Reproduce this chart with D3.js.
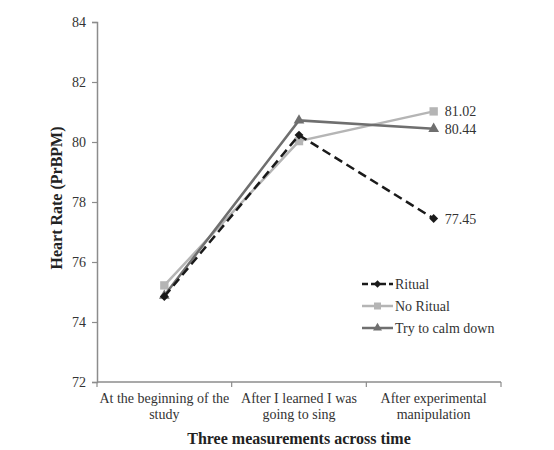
<!DOCTYPE html>
<html>
<head>
<meta charset="utf-8">
<script src="https://cdn.jsdelivr.net/npm/d3@7"></script>
<style>
  body { margin: 0; background: #fff; }
  svg { display: block; }
  svg text { font-family: "Liberation Serif", "Times New Roman", Times, "DejaVu Serif", serif !important; }
</style>
</head>
<body>
<div id="chart"></div>
<script>
// Data
const categories = ["At the beginning of the study", "After I learned I was going to sing", "After experimental manipulation"];
const categoryLines = [["At the beginning of the", "study"], ["After I learned I was", "going to sing"], ["After experimental", "manipulation"]];
const ritual = [74.85, 80.23, 77.45];
const noRitual = [75.22, 80.03, 81.02];
const calmDown = [74.88, 80.72, 80.44];
const seriesNames = ["Ritual", "No Ritual", "Try to calm down"];
const yTicks = [72, 74, 76, 78, 80, 82, 84];

const width = 554;
const height = 450;
const margin = { top: 22, right: 53, bottom: 68, left: 97 };

const svg = d3.select("#chart").append("svg")
  .attr("width", width)
  .attr("height", height)
  .attr("viewBox", [0, 0, width, height]);

const x = d3.scaleBand()
  .domain(categories)
  .range([margin.left, width - margin.right])
  .padding(0);

const y = d3.scaleLinear()
  .domain([72, 84])
  .range([height - margin.bottom, margin.top]);

const axisColor = "#8c8c8c";

// y axis
const yAxis = svg.append("g")
  .attr("transform", `translate(${margin.left},0)`)
  .call(d3.axisLeft(y).tickValues(yTicks).tickSize(5).tickPadding(6).tickFormat(d3.format("d")));
yAxis.select(".domain").attr("stroke", axisColor).attr("stroke-width", 1.5);
yAxis.selectAll(".tick line").attr("stroke", axisColor).attr("stroke-width", 1.2);
yAxis.selectAll(".tick text")
  .attr("fill", "#333")
  .style("font-size", "14px");

// x axis (ticks between categories)
const xAxis = svg.append("g");
xAxis.append("line")
  .attr("x1", x.range()[0]).attr("x2", x.range()[1])
  .attr("y1", y(72)).attr("y2", y(72))
  .attr("stroke", axisColor).attr("stroke-width", 1.5);
const bounds = categories.map(c => x(c)).concat([x(categories[categories.length - 1]) + x.bandwidth()]);
xAxis.selectAll(".xtick")
  .data(bounds)
  .join("line")
  .attr("x1", d => d).attr("x2", d => d)
  .attr("y1", y(72)).attr("y2", y(72) + 5)
  .attr("stroke", axisColor).attr("stroke-width", 1.2);

const catLabel = xAxis.selectAll(".catlabel")
  .data(categories)
  .join("text")
  .attr("text-anchor", "middle")
  .attr("fill", "#333")
  .style("font-size", "14px");
catLabel.selectAll("tspan")
  .data((d, i) => categoryLines[i].map(t => ({ t, c: d })))
  .join("tspan")
  .attr("x", d => x(d.c) + x.bandwidth() / 2)
  .attr("y", (d, i) => y(72) + 21 + i * 15.5)
  .text(d => d.t);

// axis titles
svg.append("text")
  .attr("x", (x.range()[0] + x.range()[1]) / 2)
  .attr("y", 444)
  .attr("text-anchor", "middle")
  .attr("font-weight", "bold")
  .attr("fill", "#222")
  .style("font-size", "16px")
  .text("Three measurements across time");

svg.append("text")
  .attr("transform", `translate(62,${(y(72) + y(84)) / 2 - 4}) rotate(-90)`)
  .attr("text-anchor", "middle")
  .attr("font-weight", "bold")
  .attr("fill", "#222")
  .style("font-size", "16px")
  .text("Heart Rate (PrBPM)");

// series
const series = [
  { name: seriesNames[1], values: noRitual, color: "#b5b5b5", dash: null, marker: d3.symbolSquare, size: 70 },
  { name: seriesNames[2], values: calmDown, color: "#6f6f6f", dash: null, marker: d3.symbolTriangle, size: 50 },
  { name: seriesNames[0], values: ritual, color: "#1a1a1a", dash: "9,5", marker: d3.symbolDiamond2, size: 50 }
];

const line = d3.line()
  .x((d, i) => x(categories[i]) + x.bandwidth() / 2)
  .y(d => y(d));

const g = svg.append("g");
series.forEach(s => {
  g.append("path")
    .datum(s.values)
    .attr("fill", "none")
    .attr("stroke", s.color)
    .attr("stroke-width", 2.5)
    .attr("stroke-dasharray", s.dash)
    .attr("d", line);
  g.selectAll(null)
    .data(s.values)
    .join("path")
    .attr("transform", (d, i) => `translate(${x(categories[i]) + x.bandwidth() / 2},${y(d)})`)
    .attr("d", d3.symbol(s.marker, s.size))
    .attr("fill", s.color);
});

// end labels
const ends = [noRitual, calmDown, ritual];
svg.append("g").selectAll("text")
  .data(ends)
  .join("text")
  .attr("x", x(categories[2]) + x.bandwidth() / 2 + 11)
  .attr("y", d => y(d[2]) + 5)
  .attr("fill", "#333")
  .style("font-size", "14px")
  .text(d => d3.format(".2f")(d[2]));

// legend
const legendItems = [series[2], series[0], series[1]];
const legend = svg.append("g").attr("transform", "translate(362,284)");
const li = legend.selectAll("g")
  .data(legendItems)
  .join("g")
  .attr("transform", (d, i) => `translate(0,${i * 22})`);
li.append("line")
  .attr("x1", 0).attr("x2", 31)
  .attr("stroke", d => d.color)
  .attr("stroke-width", 2.5)
  .attr("stroke-dasharray", d => d.dash ? "6,3" : null);
li.append("path")
  .attr("transform", "translate(15.5,0)")
  .attr("d", d => d3.symbol(d.marker, d.size * 0.7)())
  .attr("fill", d => d.color);
li.append("text")
  .attr("x", 33)
  .attr("y", 5)
  .attr("fill", "#333")
  .style("font-size", "14px")
  .text(d => d.name);
</script>
</body>
</html>
